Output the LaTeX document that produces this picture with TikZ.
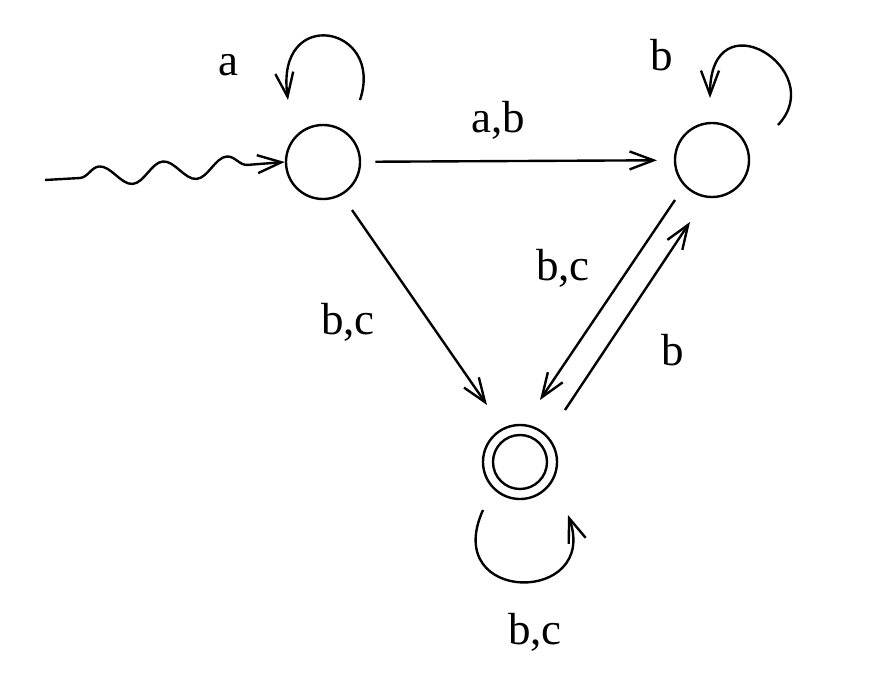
\documentclass[tikz,border=0pt]{standalone}
\usepackage{fontspec}
\setmainfont{Liberation Serif}
\usetikzlibrary{arrows.meta,decorations.pathmorphing}
\begin{document}
\begin{tikzpicture}[x=0.025cm,y=-0.025cm,
state/.style={circle,draw,line width=1.7pt,minimum size=1.85cm,inner sep=0pt},
inner/.style={circle,draw,line width=1.7pt,minimum size=1.35cm,inner sep=0pt},
trans/.style={line width=1.7pt,-{Straight Barb[length=6mm,width=4.5mm,line width=1.7pt]}},
lbl/.style={font=\fontsize{32}{38}\selectfont}
]
\useasboundingbox (0,0) rectangle (896,678);

% Automat
\node[state] (q0) at (323,162) {};
\node[state] (q1) at (712,160) {};
\node[state] (q2) at (520,462) {};
\node[inner] (q2i) at (q2) {};

\coordinate (init) at (45,180);
\coordinate (w1) at (80,178);
\draw[line width=1.7pt] (init) -- (w1);
\draw[trans,decorate,decoration={snake,amplitude=2.5mm,segment length=16mm,post length=6mm}] (w1) -- (q0.west);

\coordinate (e0a) at (352,210); \coordinate (e0b) at (487,405);
\coordinate (e1a) at (565,410); \coordinate (e1b) at (690,222);
\coordinate (e2a) at (675,200); \coordinate (e2b) at (540,400);
\draw[trans,shorten <=10pt,shorten >=12pt] (q0) -- (q1);
\draw[trans] (e0a) -- (e0b);
\draw[trans] (e1a) -- (e1b);
\draw[trans] (e2a) -- (e2b);

\coordinate (l0a) at (360,100); \coordinate (l0b) at (288,100);
\coordinate (l1a) at (778,125); \coordinate (l1b) at (710,98);
\coordinate (l2a) at (483,510); \coordinate (l2b) at (568,515);
\draw[trans] (l0a) .. controls (385,25) and (275,5) .. (l0b);
\draw[trans] (l1a) .. controls (830,70) and (710,-5) .. (l1b);
\draw[trans] (l2a) .. controls (440,605) and (600,605) .. (l2b);

\node[lbl] (la) at (228,65) {a};
\node[lbl] (lab) at (498,120) {a,b};
\node[lbl] (lb) at (662,55) {b};
\node[lbl] (lbc0) at (348,322) {b,c};
\node[lbl] (lbc1) at (563,268) {b,c};
\node[lbl] (lb2) at (673,350) {b};
\node[lbl] (lbc2) at (535,632) {b,c};
\end{tikzpicture}
\end{document}
